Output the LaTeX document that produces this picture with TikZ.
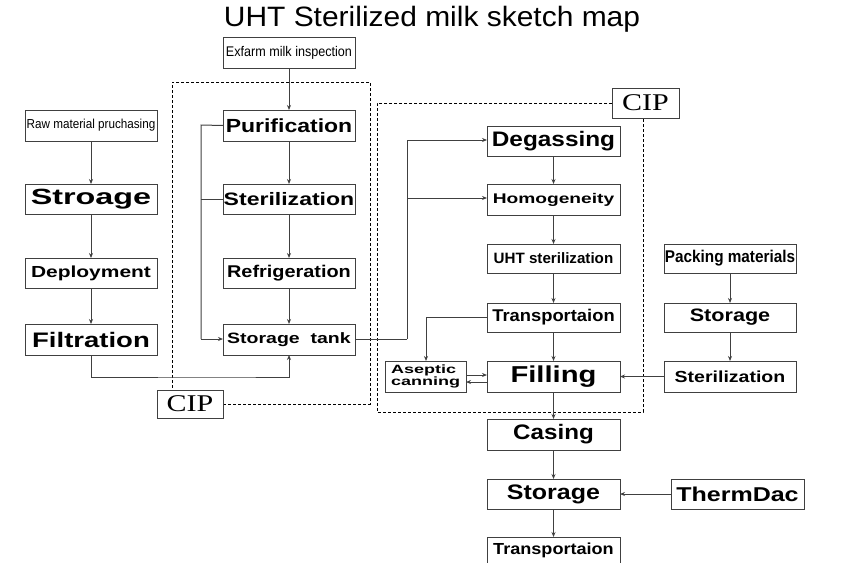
\documentclass[tikz,border=0pt]{standalone}
\usepackage{fontspec}
\setmainfont{Liberation Sans}
\newfontfamily\tms{Liberation Serif}
\usetikzlibrary{arrows.meta}
\newcommand{\bx}[7]{\node[box,minimum width={#4-#2},minimum height={#5-#3},font=#6] (#1) at ({(#2+#4)/2},{(#3+#5)/2}) {#7};}
\newcommand{\sx}[2]{\scalebox{#1}[1]{#2}}
\begin{document}
\begin{tikzpicture}[x=1pt,y=-1pt,
  box/.style={draw=black!75,line width=1pt,inner sep=0pt,outer sep=0pt,text=black},
  ar/.style={draw=black!75,line width=1pt,-{Stealth[length=5pt,width=4pt]}},
  ln/.style={draw=black!75,line width=1pt},
  dsh/.style={draw=black,line width=0.8pt,dash pattern=on 3pt off 2pt}]
\useasboundingbox (0,0) rectangle (864,562);
\node[font=\fontsize{28}{30}\selectfont] (title) at (432,19) {\sx{1.07}{UHT Sterilized milk sketch map}};
% dashed regions
\draw[dsh] (223,404) -- (370,404) -- (370,82) -- (172,82) -- (172,390);
\draw[dsh] (612,103) -- (377,103) -- (377,412) -- (643,412) -- (643,118);
% left column
\bx{raw}{25}{110}{157}{141}{\fontsize{13}{15}\selectfont}{\sx{0.9}{Raw material pruchasing}}
\bx{stro}{25}{184}{157}{214}{\fontsize{22}{24}\selectfont\bfseries}{\sx{1.47}{Stroage}}
\bx{dep}{25}{258}{157}{288}{\fontsize{16}{18}\selectfont\bfseries}{\sx{1.31}{Deployment}}
\bx{fil}{25}{324}{157}{355}{\fontsize{21}{24}\selectfont\bfseries}{\sx{1.31}{Filtration}}
% middle column
\bx{exf}{223}{37}{355}{68}{\fontsize{14}{16}\selectfont}{\sx{0.9}{Exfarm milk inspection}}
\bx{pur}{223}{110}{355}{141}{\fontsize{19}{22}\selectfont\bfseries}{\sx{1.21}{Purification}}
\bx{ster}{223}{184}{355}{214}{\fontsize{18}{21}\selectfont\bfseries}{\sx{1.28}{Sterilization}}
\bx{ref}{223}{258}{355}{288}{\fontsize{17}{20}\selectfont\bfseries}{\sx{1.17}{Refrigeration}}
\bx{tank}{223}{324}{355}{355}{\fontsize{15}{18}\selectfont\bfseries}{\sx{1.3}{Storage\ \ tank}}
\bx{cip1}{157}{390}{223}{418}{\fontsize{24}{26}\selectfont\tms}{\sx{1.25}{CIP}}
% right column
\bx{deg}{487}{126}{620}{156}{\fontsize{21}{24}\selectfont\bfseries}{\sx{1.16}{Degassing}}
\bx{hom}{487}{184}{620}{215}{\fontsize{14}{16}\selectfont\bfseries}{\sx{1.37}{Homogeneity}}
\bx{uht}{487}{244}{620}{273}{\fontsize{15}{17}\selectfont}{\sx{1.01}{\bfseries UHT sterilization}}
\bx{tr1}{487}{303}{620}{332}{\fontsize{17}{20}\selectfont\bfseries}{\sx{1.08}{Transportaion}}
\bx{fill}{487}{361}{620}{392}{\fontsize{23}{26}\selectfont\bfseries}{\sx{1.27}{Filling}}
\bx{case}{487}{419}{620}{450}{\fontsize{21}{24}\selectfont\bfseries}{\sx{1.15}{Casing}}
\bx{st2}{487}{479}{620}{509}{\fontsize{21}{24}\selectfont\bfseries}{\raisebox{3pt}{\sx{1.19}{Storage}}}
\bx{tr2}{487}{537}{620}{566}{\fontsize{16}{18}\selectfont\bfseries}{\raisebox{6pt}{\sx{1.13}{Transportaion}}}
\bx{asep}{385}{361}{466}{392}{\fontsize{12}{11}\selectfont\bfseries}{\sx{1.5}{\begin{tabular}{@{}l@{}}Aseptic\\canning\end{tabular}}}
\bx{cip2}{612}{88}{679}{118}{\fontsize{24}{26}\selectfont\tms}{\sx{1.25}{CIP}}
% packing column
\bx{pack}{664}{244}{796}{273}{\fontsize{17}{20}\selectfont}{\sx{0.9}{\bfseries Packing materials}}
\bx{st3}{664}{303}{796}{332}{\fontsize{18}{21}\selectfont\bfseries}{\sx{1.2}{Storage}}
\bx{ster2}{664}{361}{796}{392}{\fontsize{16}{19}\selectfont\bfseries}{\sx{1.22}{Sterilization}}
\bx{therm}{671}{479}{804}{509}{\fontsize{20}{23}\selectfont\bfseries}{\sx{1.25}{ThermDac}}
% arrows left
\draw[ar] (raw) -- (stro);
\draw[ar] (stro) -- (dep);
\draw[ar] (dep) -- (fil);
\draw[ar] (fil.south) |- (223,377) -| (tank.south);
\draw[ar] (exf) -- (pur);
\draw[ar] (pur) -- (ster);
\draw[ar] (ster) -- (ref);
\draw[ar] (ref) -- (tank);
\draw[ln] (pur.west) -- (201,125) -- (201,339);
\draw[ln] (ster.west) -- (201,199);
\draw[ar] (201,339) -- (tank.west |- 0,339);
% right
\coordinate (j1) at (407,339);
\draw[ln] (tank.east |- j1) -- (j1);
\draw[ar] (j1) |- (deg.west |- 0,140);
\draw[ar] (407,198) -- (hom.west |- 0,198);
\draw[ar] (deg) -- (hom);
\draw[ar] (hom) -- (uht);
\draw[ar] (uht) -- (tr1);
\draw[ar] (tr1) -- (fill);
\draw[ar] (tr1.west) -| (asep.north -| 426,0);
\draw[ar] (asep.east |- 0,375) -- (fill.west |- 0,375);
\draw[ar] (fill.west |- 0,382) -- (asep.east |- 0,382);
\draw[ar] (fill) -- (case);
\draw[ar] (case) -- (st2);
\draw[ar] (st2) -- (tr2);
\draw[ar] (pack) -- (st3);
\draw[ar] (st3) -- (ster2);
\draw[ar] (ster2) -- (fill);
\draw[ar] (therm) -- (st2);
\end{tikzpicture}
\end{document}
